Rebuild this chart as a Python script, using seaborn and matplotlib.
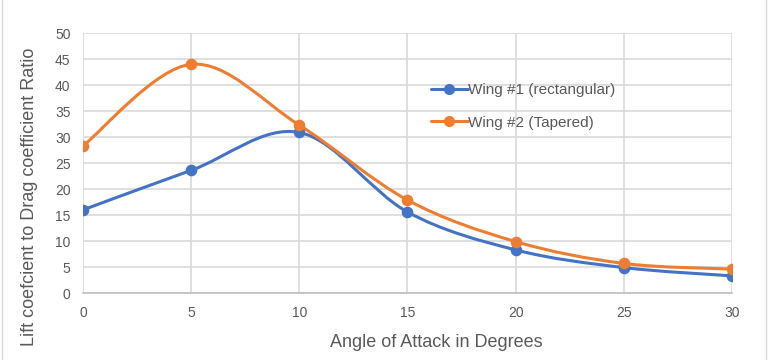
import numpy as np
import matplotlib
matplotlib.use("Agg")
import matplotlib.pyplot as plt
from matplotlib.path import Path
from matplotlib.patches import PathPatch
from matplotlib.lines import Line2D
import seaborn as sns

# data
angles = [0, 5, 10, 15, 20, 25, 30]
wing1 = [16.0, 23.6, 30.9, 15.6, 8.3, 4.9, 3.3]
wing2 = [28.3, 44.0, 32.3, 17.9, 9.9, 5.7, 4.6]
labels = ["Wing #1 (rectangular)", "Wing #2 (Tapered)"]
colors = ["#4472C4", "#ED7D31"]
text_gray = "#595959"

sns.set_style("white")
plt.rcParams['font.family'] = ['Liberation Sans', 'DejaVu Sans']


def smooth_path(xs, ys):
    # Catmull-Rom style bezier through the points (like Excel's smoothed line)
    xs = np.asarray(xs, float)
    ys = np.asarray(ys, float)
    n = len(xs)
    verts = [(xs[0], ys[0])]
    codes = [Path.MOVETO]
    for i in range(n - 1):
        p0 = i - 1 if i > 0 else i
        p3 = i + 2 if i + 2 < n else i + 1
        c1 = (xs[i] + (xs[i + 1] - xs[p0]) / 6, ys[i] + (ys[i + 1] - ys[p0]) / 6)
        c2 = (xs[i + 1] - (xs[p3] - xs[i]) / 6, ys[i + 1] - (ys[p3] - ys[i]) / 6)
        verts += [c1, c2, (xs[i + 1], ys[i + 1])]
        codes += [Path.CURVE4] * 3
    return Path(verts, codes)


fig = plt.figure(figsize=(7.68, 3.6), dpi=100)
ax = fig.add_axes([0.108, 0.186, 0.845, 0.722])

handles = []
for ys, col, lab in zip([wing1, wing2], colors, labels):
    ax.add_patch(PathPatch(smooth_path(angles, ys), facecolor="none",
                           edgecolor=col, lw=2.2, zorder=3, capstyle="round"))
    sns.scatterplot(x=angles, y=ys, color=col, s=70, edgecolor=col,
                    linewidth=0, ax=ax, zorder=4)
    handles.append(Line2D([], [], color=col, lw=2.2, marker="o", markersize=7))

ax.set_xlim(0, 30)
ax.set_ylim(0, 50)
ax.set_xticks(range(0, 31, 5))
ax.set_yticks(range(0, 51, 5))
ax.grid(True, color="#D9D9D9", lw=1.2)
ax.set_axisbelow(True)
for s in ["top", "right", "left"]:
    ax.spines[s].set_visible(False)
ax.spines["bottom"].set_color("#BFBFBF")
ax.spines["bottom"].set_linewidth(1.2)
ax.tick_params(length=0, labelsize=10, colors=text_gray)
ax.tick_params(axis="x", pad=9)
ax.tick_params(axis="y", pad=9)

ax.set_xlabel("Angle of Attack in Degrees", fontsize=13, color=text_gray)
ax.set_ylabel("Lift coefcient to Drag coefficient Ratio", fontsize=13,
              color=text_gray)
ax.xaxis.set_label_coords(0.545, -0.19)
ax.yaxis.set_label_coords(-0.082, 0.37)
ax.xaxis.label.set_va("center")
ax.yaxis.label.set_va("center")

leg = ax.legend(handles, labels, loc="upper left", bbox_to_anchor=(0.515, 0.86),
                frameon=False, fontsize=11, handlelength=2.4, handletextpad=0.05,
                labelspacing=1.2)
for t in leg.get_texts():
    t.set_color(text_gray)

# outer chart frame lines
fig.add_artist(Line2D([0.002, 0.002], [0, 1], transform=fig.transFigure,
                      color="#D9D9D9", lw=1))
fig.add_artist(Line2D([0.998, 0.998], [0, 1], transform=fig.transFigure,
                      color="#D9D9D9", lw=1))

fig.savefig("out.png", dpi=100)
